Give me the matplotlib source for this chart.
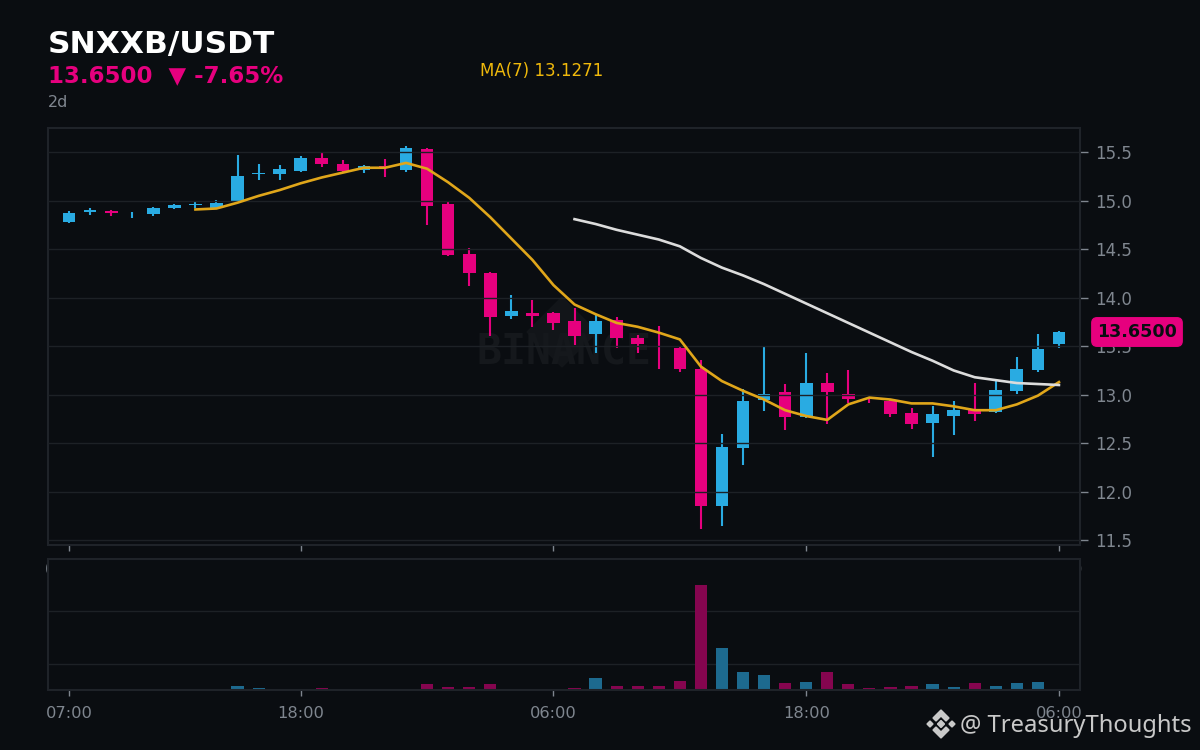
import matplotlib
matplotlib.use("Agg")
import matplotlib.pyplot as plt
from matplotlib.patches import Polygon

# candle data, one per hour
opens = [14.78, 14.88, 14.89, 14.85, 14.86, 14.93, 14.96, 14.92, 15.00, 15.28, 15.28, 15.31,
         15.44, 15.38, 15.32, 15.36, 15.32, 15.53, 14.97, 14.45, 14.25, 13.81, 13.84, 13.84,
         13.76, 13.63, 13.77, 13.58, 13.65, 13.48, 13.26, 11.85, 12.45, 12.95, 13.03, 12.77,
         13.12, 13.01, 12.96, 12.93, 12.81, 12.71, 12.78, 12.84, 12.82, 13.04, 13.25, 13.52]
closes = [14.87, 14.90, 14.87, 14.85, 14.93, 14.96, 14.969, 14.98, 15.25, 15.289, 15.33, 15.44,
          15.38, 15.31, 15.36, 15.351, 15.54, 14.95, 14.44, 14.25, 13.80, 13.86, 13.81, 13.74,
          13.61, 13.76, 13.58, 13.52, 13.649, 13.27, 11.85, 12.46, 12.94, 13.01, 12.77, 13.12,
          13.03, 12.96, 12.951, 12.80, 12.70, 12.80, 12.84, 12.80, 13.05, 13.27, 13.47, 13.65]
highs = [14.89, 14.92, 14.90, 14.88, 14.94, 14.97, 15.00, 15.01, 15.47, 15.38, 15.37, 15.46,
         15.49, 15.42, 15.37, 15.43, 15.56, 15.54, 15.00, 14.51, 14.27, 14.03, 13.98, 13.85,
         13.89, 13.82, 13.80, 13.62, 13.71, 13.49, 13.36, 12.59, 13.06, 13.49, 13.11, 13.43,
         13.22, 13.25, 12.98, 12.95, 12.86, 12.88, 12.94, 13.12, 13.14, 13.39, 13.63, 13.66]
lows = [14.77, 14.85, 14.84, 14.82, 14.84, 14.91, 14.92, 14.92, 14.99, 15.21, 15.21, 15.30,
        15.35, 15.30, 15.29, 15.24, 15.30, 14.75, 14.43, 14.12, 13.61, 13.78, 13.70, 13.67,
        13.51, 13.43, 13.48, 13.43, 13.27, 13.23, 11.62, 11.65, 12.28, 12.83, 12.64, 12.76,
        12.70, 12.91, 12.91, 12.77, 12.65, 12.36, 12.58, 12.73, 12.81, 13.01, 13.23, 13.48]

# moving averages, first value is at hour 6 / hour 24
ma7 = [14.91, 14.92, 14.98, 15.05, 15.11, 15.18, 15.24, 15.29, 15.34, 15.34, 15.39, 15.33,
       15.19, 15.03, 14.83, 14.61, 14.39, 14.13, 13.93, 13.83, 13.74, 13.70, 13.64, 13.57,
       13.29, 13.14, 13.04, 12.95, 12.84, 12.78, 12.74, 12.90, 12.97, 12.95, 12.91, 12.91,
       12.88, 12.84, 12.84, 12.90, 12.99, 13.13]
ma25 = [14.81, 14.76, 14.70, 14.65, 14.60, 14.53, 14.41, 14.31, 14.23, 14.14, 14.04, 13.94,
        13.84, 13.74, 13.64, 13.54, 13.44, 13.35, 13.25, 13.18, 13.15, 13.12, 13.11, 13.10]

volumes = [0, 0, 0, 0, 0, 0, 0, 0, 4, 2.2, 1.2, 0, 2.2, 1.2, 0, 1, 1.2, 6, 3, 3, 6, 1.2, 1, 1,
           2.2, 11, 4, 4, 4, 9, 100, 40, 17, 14.5, 7, 8, 17, 6, 2.2, 3, 4, 6, 3, 7, 4, 7, 8, 1.2]

x_ticks = [0, 11, 23, 35, 47]
x_labels = ["07:00", "18:00", "06:00", "18:00", "06:00"]
y_ticks = [11.5, 12.0, 12.5, 13.0, 13.5, 14.0, 14.5, 15.0, 15.5]
vol_grid = [25, 75]

BG = "#0a0d11"
UP = "#29abe2"
DOWN = "#e6007e"
GRID = "#1d2126"
SPINE = "#1f2329"
TICK = "#7f868f"
W, H = 1200, 750


def px_axes(fig, left, top, right, bottom):
    # axes from pixel edges, y counted from the top of the image
    return fig.add_axes([left / W, 1 - bottom / H, (right - left) / W, (bottom - top) / H])


def style_axes(ax):
    ax.set_facecolor(BG)
    for s in ax.spines.values():
        s.set_color(SPINE)
        s.set_linewidth(1.5)
    ax.set_xlim(-1, 48)
    ax.set_xticks(x_ticks)
    ax.set_xticklabels(x_labels)
    ax.tick_params(axis="x", colors=TICK, length=4, width=1, labelsize=11.7, pad=7.5)


def main():
    fig = plt.figure(figsize=(W / 100, H / 100), dpi=100, facecolor=BG)

    # price panel
    ax = px_axes(fig, 48, 128, 1080, 545)
    style_axes(ax)
    # these labels end up behind the volume panel, only their edges stick out
    ax.tick_params(axis="x", labelsize=12.3)
    ax.set_ylim(11.45, 15.75)
    ax.yaxis.tick_right()
    ax.set_yticks(y_ticks)
    ax.set_yticklabels(["%.1f" % v for v in y_ticks])
    ax.tick_params(axis="y", colors=TICK, length=6, width=1, labelsize=12, pad=5)
    # grid goes over the candle bodies here
    for v in y_ticks:
        ax.axhline(v, color=GRID, linewidth=1, zorder=3)

    # exchange watermark behind the candles
    ax.add_patch(Polygon([(527 / W, 1 - 332 / H), (562 / W, 1 - 297 / H), (597 / W, 1 - 332 / H),
                          (562 / W, 1 - 367 / H)], transform=fig.transFigure, color="#121519", zorder=0.5))
    ax.text(564 / W, 1 - 352 / H, "BINANCE", transform=fig.transFigure, ha="center", va="center",
            family="DejaVu Sans Mono", weight="bold", fontsize=30, color="#15181c", zorder=0.6)

    for i in range(len(opens)):
        col = UP if closes[i] >= opens[i] else DOWN
        ax.vlines(i, lows[i], highs[i], color=col, linewidth=1.5, zorder=2)
        ax.bar(i, abs(closes[i] - opens[i]), bottom=min(opens[i], closes[i]), width=0.6, color=col, zorder=2)

    ax.plot(range(6, 6 + len(ma7)), ma7, color="#e0a61a", linewidth=1.9, zorder=4)
    ax.plot(range(24, 24 + len(ma25)), ma25, color="#dcdcdc", linewidth=1.9, zorder=4)

    # volume panel sits on top of the price panel labels
    vax = px_axes(fig, 48, 559, 1080, 690)
    vax.set_zorder(ax.get_zorder() + 1)
    style_axes(vax)
    vax.set_ylim(0, 125)
    vax.set_yticks(vol_grid)
    vax.tick_params(axis="y", length=0, labelleft=False)
    vax.grid(axis="y", color=GRID, linewidth=1)
    vax.set_axisbelow(True)
    vol_colors = ["#1d6a8f" if c >= o else "#85054f" for o, c in zip(opens, closes)]
    vax.bar(range(len(volumes)), volumes, width=0.58, color=vol_colors, zorder=2)

    # header
    fig.text(48 / W, 1 - 53 / H, "SNXXB/USDT", color="white", fontsize=22.5, weight="bold")
    fig.text(48 / W, 1 - 82 / H, "13.6500  ▼ -7.65%", color=DOWN, fontsize=16.5, weight="bold")
    fig.text(48 / W, 1 - 107 / H, "2d", color=TICK, fontsize=11.5)
    fig.text(480 / W, 1 - 76 / H, "MA(7) 13.1271", color="#f0b90b", fontsize=12)

    # last price badge
    fig.text(1137 / W, 1 - 332 / H, "13.6500", color=BG, fontsize=12.6, weight="bold",
             ha="center", va="center", zorder=10,
             bbox=dict(boxstyle="round,pad=0.3,rounding_size=0.3", facecolor=DOWN, edgecolor=DOWN, linewidth=1))

    # logo + handle bottom right
    logo_color = "#c9c9c9"
    cx, cy = 941, 724

    def logo_part(points):
        fig.add_artist(Polygon([((cx + a) / W, 1 - (cy + b) / H) for a, b in points],
                               transform=fig.transFigure, color=logo_color, zorder=10))

    logo_part([(0, -3.5), (3.5, 0), (0, 3.5), (-3.5, 0)])
    logo_part([(-14, 0), (-11, -3), (-8, 0), (-11, 3)])
    logo_part([(14, 0), (11, -3), (8, 0), (11, 3)])
    logo_part([(0, -14), (8, -6), (5, -3), (0, -8), (-5, -3), (-8, -6)])
    logo_part([(0, 14), (8, 6), (5, 3), (0, 8), (-5, 3), (-8, 6)])
    fig.text(960 / W, 1 - 726 / H, "@ TreasuryThoughts", color=logo_color, fontsize=17.1,
             family="Noto Sans", va="center", zorder=10)

    fig.savefig("out.png", dpi=100, facecolor=BG)


if __name__ == "__main__":
    main()
